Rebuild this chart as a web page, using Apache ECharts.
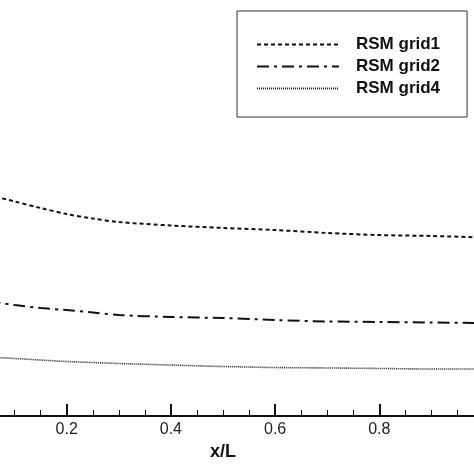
<!DOCTYPE html>
<html>
<head>
<meta charset="utf-8">
<script src="https://cdn.jsdelivr.net/npm/echarts@6/dist/echarts.min.js"></script>
<style>
  html, body { margin: 0; padding: 0; background: #fff; }
  #chart { width: 474px; height: 474px; }
</style>
</head>
<body>
<div id="chart"></div>
<script>
"use strict";
// x/L positions of the samples
var xPos = [0.05, 0.1, 0.15, 0.2, 0.25, 0.3, 0.4, 0.5, 0.6, 0.7, 0.8, 0.9, 1.0];
// values (no y axis shown, arbitrary units)
var grid1 = [2.125, 2.063, 2.000, 1.942, 1.899, 1.865, 1.832, 1.808, 1.788, 1.760, 1.740, 1.731, 1.716];
var grid2 = [1.106, 1.067, 1.038, 1.019, 0.995, 0.971, 0.952, 0.942, 0.923, 0.909, 0.904, 0.899, 0.894];
var grid4 = [0.567, 0.553, 0.538, 0.524, 0.514, 0.505, 0.490, 0.476, 0.466, 0.462, 0.457, 0.452, 0.452];
var names = ['RSM grid1', 'RSM grid2', 'RSM grid4'];

function pairs(ys) {
	var out = [];
	for (var i = 0; i < xPos.length; i++) {
		out.push([xPos[i], ys[i]]);
	}
	return out;
}

var myChart = echarts.init(document.getElementById('chart'));
var option = {
	animation: false,
	backgroundColor: '#fff',
	// the plot is cropped: x=0 and x=1 sit just outside the picture
	grid: { left: -37.5, right: -9.5, top: 0, bottom: 58, outerBoundsMode: 'none', containLabel: false },
	legend: {
		orient: 'vertical',
		left: 237,
		top: 11,
		data: names,
		itemWidth: 82,
		itemHeight: 14,
		itemGap: 5,
		padding: [25, 27, 20, 19],
		borderColor: '#333',
		borderWidth: 1,
		itemStyle: { opacity: 0 },
		textStyle: {
			fontFamily: 'Liberation Sans',
			fontWeight: 'bold',
			fontSize: 17,
			color: '#111',
			padding: [0, 0, 0, 12]
		}
	},
	xAxis: {
		type: 'value',
		min: 0,
		max: 1,
		interval: 0.2,
		name: 'x/L',
		nameLocation: 'middle',
		nameGap: 19,
		nameTextStyle: {
			fontFamily: 'Liberation Sans',
			fontWeight: 'bold',
			fontSize: 18,
			color: '#111'
		},
		axisLine: { lineStyle: { color: '#111', width: 2 } },
		axisTick: { inside: true, length: 12, lineStyle: { color: '#111', width: 2 } },
		minorTick: { show: true, splitNumber: 4, length: 6, lineStyle: { color: '#111', width: 1 } },
		splitLine: { show: false },
		axisLabel: {
			fontFamily: 'Liberation Sans',
			fontSize: 16,
			color: '#222',
			margin: 6,
			formatter: function (v) { return v === 0 ? '0' : String(v); }
		}
	},
	yAxis: {
		type: 'value',
		min: 0,
		max: 4,
		show: false
	},
	series: [
		{
			name: names[0],
			type: 'line',
			symbol: 'none',
			smooth: 0.3,
			data: pairs(grid1),
			lineStyle: { color: '#111', width: 2, type: [4, 3] }
		},
		{
			name: names[1],
			type: 'line',
			symbol: 'none',
			smooth: 0.3,
			data: pairs(grid2),
			lineStyle: { color: '#111', width: 2, type: [12, 5, 3, 5] }
		},
		{
			name: names[2],
			type: 'line',
			symbol: 'none',
			smooth: 0.3,
			data: pairs(grid4),
			lineStyle: { color: '#222', width: 1.6, type: [1, 1] }
		}
	],
	color: ['#111', '#111', '#222']
};
myChart.setOption(option);
</script>
</body>
</html>
